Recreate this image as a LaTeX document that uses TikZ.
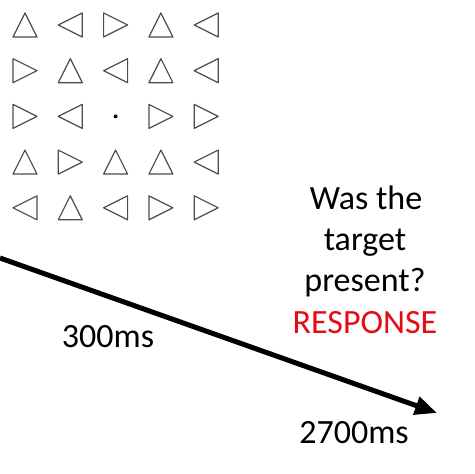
\documentclass[tikz,border=0pt]{standalone}
\usepackage{fontspec}
\setmainfont{Carlito}
\usetikzlibrary{arrows.meta}
\definecolor{respred}{RGB}{228,12,20}

\begin{document}
\begin{tikzpicture}[x=0.5pt,y=-0.5pt,
  stim/.style={draw=black!70,line width=0.6pt,line join=round},
  lbl/.style={font=\fontsize{17}{20.5}\selectfont,inner sep=0pt,anchor=base},
  timeline/.style={line width=2.5pt,-{Triangle[length=11pt,width=9pt]}}]
\useasboundingbox (0,0) rectangle (474,474);
%Search display
\foreach \dir [count=\i from 0] in {90,180,0,90,180, 0,90,180,90,180, 0,180,-1,0,0, 90,0,90,90,180, 180,90,180,0,0}
{
\pgfmathtruncatemacro{\col}{mod(\i,5)}
\pgfmathtruncatemacro{\row}{int(\i/5)}
\ifnum\dir<0
\fill (25+45.3*\col,25+45.7*\row) circle (2);
\else
\draw[stim,shift={(25+45.3*\col,25+45.7*\row)},rotate=\dir] (12,0) -- (-12,12) -- (-12,-12) -- cycle;
\fi
}
%Timeline
\coordinate (t0) at (0,258);
\coordinate (t1) at (437,413);
\draw[timeline] (t0) -- (t1);
\node[lbl] (soa) at (108,347) {300ms};
\node[lbl] (rt) at (354,443) {2700ms};
%Question
\node[lbl] (q1) at (366,210) {Was the};
\node[lbl] (q2) at (365,251) {target};
\node[lbl] (q3) at (365,292) {present?};
\node[lbl,text=respred] (resp) at (365,333) {RESPONSE};
\end{tikzpicture}
\end{document}
